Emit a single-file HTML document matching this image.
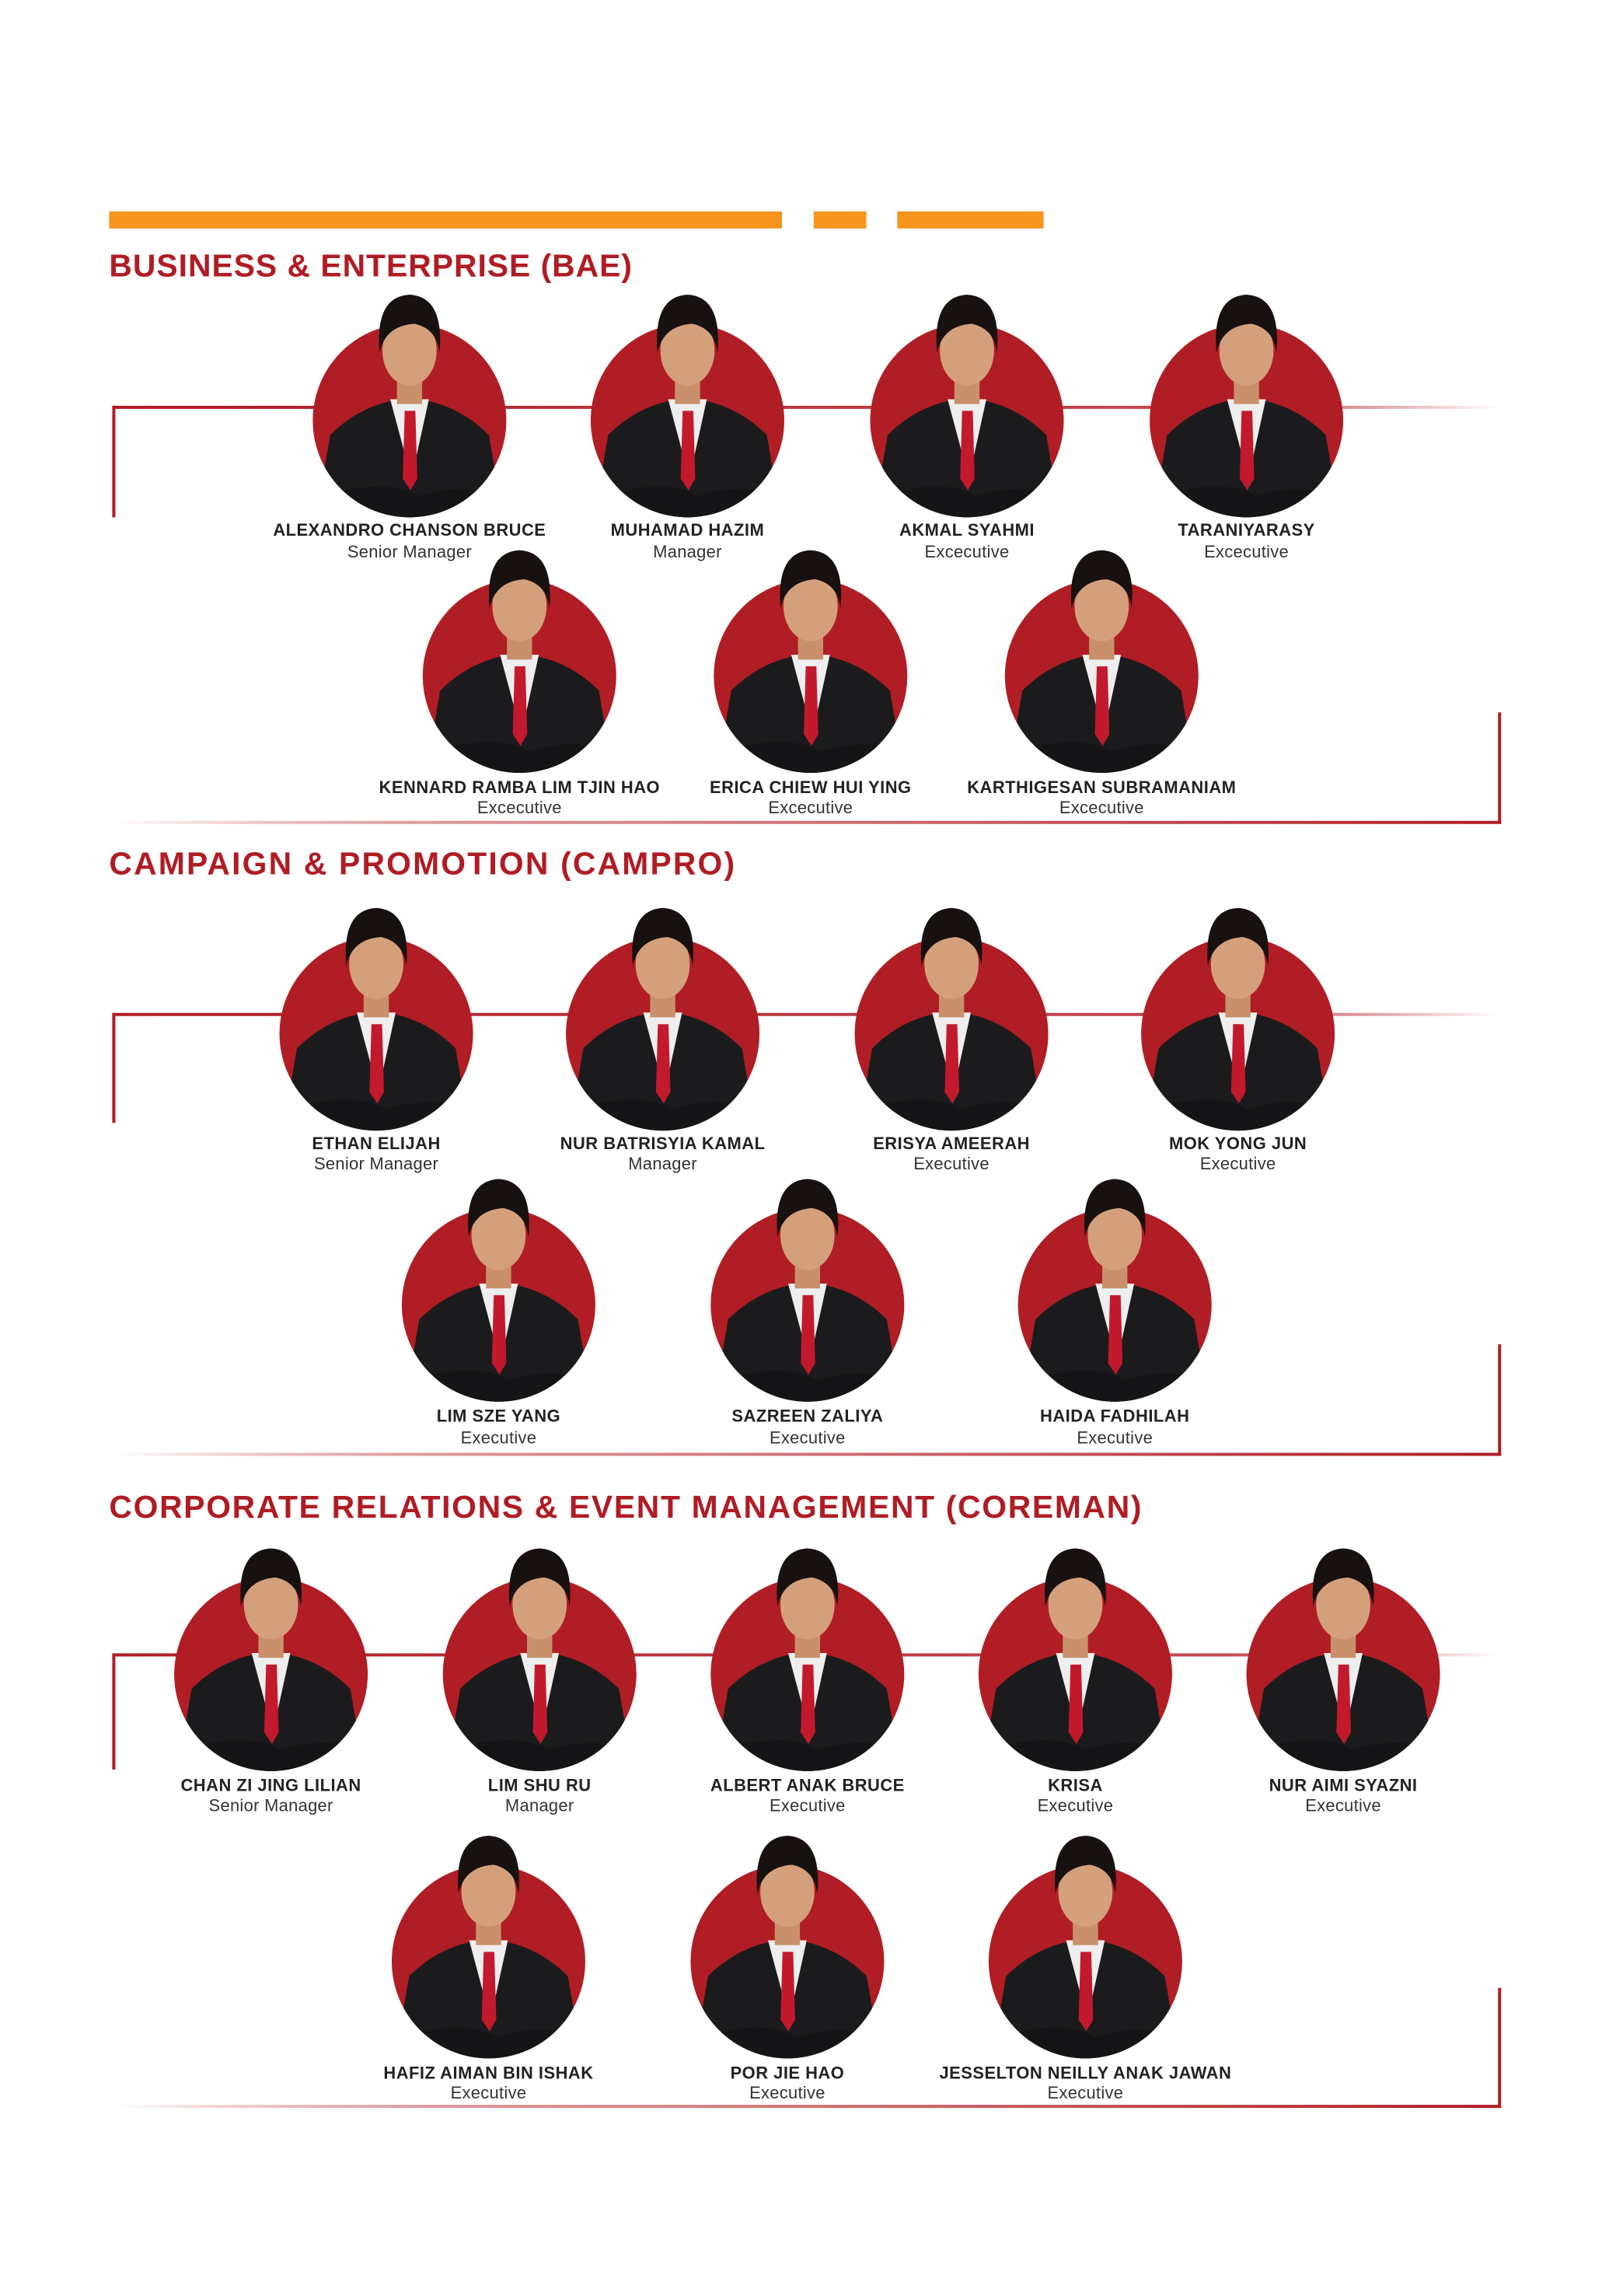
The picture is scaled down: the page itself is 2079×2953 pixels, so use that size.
<!DOCTYPE html>
<html><head><meta charset="utf-8">
<style>
html,body{margin:0;padding:0;background:#fff;}
body{width:2079px;height:2953px;position:relative;overflow:hidden;font-family:"Liberation Sans",sans-serif;}
#w{position:absolute;left:0;top:0;width:2079px;height:2953px;transform:scale(0.996);transform-origin:0 0;}
svg{position:absolute;left:0;top:0;}
.t{position:absolute;left:141px;color:#b01c24;font-size:41px;font-weight:bold;letter-spacing:1px;white-space:nowrap;line-height:1;}
.n{position:absolute;width:600px;margin-left:-300px;text-align:center;color:#222;font-size:22px;font-weight:bold;line-height:1;white-space:nowrap;letter-spacing:0.5px;}
.r{position:absolute;width:400px;margin-left:-200px;text-align:center;color:#333;font-size:22px;line-height:1;white-space:nowrap;letter-spacing:0.3px;}
</style></head><body><div id="w">
<svg width="2079" height="2953" viewBox="0 0 2079 2953">
<defs>
<linearGradient id="fr" x1="0" x2="1" y1="0" y2="0"><stop offset="0" stop-color="#b01c24"/><stop offset="0.8" stop-color="#c44850"/><stop offset="1" stop-color="#b01c24" stop-opacity="0"/></linearGradient>
<linearGradient id="fl" x1="0" x2="1" y1="0" y2="0"><stop offset="0" stop-color="#b01c24" stop-opacity="0"/><stop offset="0.35" stop-color="#d88a8e"/><stop offset="1" stop-color="#b01c24"/></linearGradient>
<clipPath id="cc" clipPathUnits="userSpaceOnUse"><circle cx="0" cy="0" r="1"/></clipPath>
<g id="p">
<circle cx="0" cy="0" r="1" fill="#b11d24"/>
<g clip-path="url(#cc)">
<path d="M-1 1.2 L-0.82 0.15 Q-0.55 -0.12 -0.2 -0.2 L0.2 -0.2 Q0.55 -0.12 0.82 0.15 L1 1.2 Z" fill="#1b1b1d"/>
<path d="M-0.2 -0.22 L0.2 -0.22 L0.02 0.6 Z" fill="#eeeeee"/>
<path d="M-0.05 -0.1 L0.06 -0.1 L0.08 0.6 L0.01 0.72 L-0.07 0.6 Z" fill="#c21a2c"/>
<path d="M-0.8 0.75 Q-0.2 0.6 0.1 0.78 Q0.5 0.65 0.85 0.75 L0.9 1.1 L-0.9 1.1 Z" fill="#151517"/>
</g>
<rect x="-0.13" y="-0.45" width="0.26" height="0.28" fill="#c8916c"/>
<ellipse cx="0" cy="-0.72" rx="0.28" ry="0.36" fill="#d4a07c"/>
<path d="M-0.31 -0.7 Q-0.36 -1.28 0 -1.3 Q0.36 -1.28 0.31 -0.7 Q0.28 -0.95 0.05 -1 Q-0.25 -0.98 -0.31 -0.7 Z" fill="#17110f"/>
</g>
</defs>
<rect x="141" y="273" width="869" height="22" fill="#f7941d"/>
<rect x="1051" y="273" width="68" height="22" fill="#f7941d"/>
<rect x="1159" y="273" width="189" height="22" fill="#f7941d"/>

<rect x="145" y="524" width="1790" height="4" fill="url(#fr)"/>
<rect x="145" y="524" width="4" height="144" fill="#b01c24"/>
<rect x="150" y="1060" width="1789" height="4" fill="url(#fl)"/>
<rect x="1935" y="920" width="4" height="144" fill="#b01c24"/>
<rect x="145" y="1308" width="1790" height="4" fill="url(#fr)"/>
<rect x="145" y="1308" width="4" height="142" fill="#b01c24"/>
<rect x="150" y="1876" width="1789" height="4" fill="url(#fl)"/>
<rect x="1935" y="1736" width="4" height="144" fill="#b01c24"/>
<rect x="145" y="2135" width="1790" height="4" fill="url(#fr)"/>
<rect x="145" y="2135" width="4" height="150" fill="#b01c24"/>
<rect x="150" y="2718" width="1789" height="4" fill="url(#fl)"/>
<rect x="1935" y="2567" width="4" height="155" fill="#b01c24"/>

<use href="#p" transform="translate(529,543) scale(125)"/>
<use href="#p" transform="translate(888,543) scale(125)"/>
<use href="#p" transform="translate(1249,543) scale(125)"/>
<use href="#p" transform="translate(1610,543) scale(125)"/>
<use href="#p" transform="translate(671,873) scale(125)"/>
<use href="#p" transform="translate(1047,873) scale(125)"/>
<use href="#p" transform="translate(1423,873) scale(125)"/>
<use href="#p" transform="translate(486,1335) scale(125)"/>
<use href="#p" transform="translate(856,1335) scale(125)"/>
<use href="#p" transform="translate(1229,1335) scale(125)"/>
<use href="#p" transform="translate(1599,1335) scale(125)"/>
<use href="#p" transform="translate(644,1685) scale(125)"/>
<use href="#p" transform="translate(1043,1685) scale(125)"/>
<use href="#p" transform="translate(1440,1685) scale(125)"/>
<use href="#p" transform="translate(350,2162) scale(125)"/>
<use href="#p" transform="translate(697,2162) scale(125)"/>
<use href="#p" transform="translate(1043,2162) scale(125)"/>
<use href="#p" transform="translate(1389,2162) scale(125)"/>
<use href="#p" transform="translate(1735,2162) scale(125)"/>
<use href="#p" transform="translate(631,2533) scale(125)"/>
<use href="#p" transform="translate(1017,2533) scale(125)"/>
<use href="#p" transform="translate(1402,2533) scale(125)"/>
</svg>

<div class="t" style="top:323px">BUSINESS &amp; ENTERPRISE (BAE)</div>
<div class="t" style="top:1095px;letter-spacing:2.2px">CAMPAIGN &amp; PROMOTION (CAMPRO)</div>
<div class="t" style="top:1926px;letter-spacing:1.7px">CORPORATE RELATIONS &amp; EVENT MANAGEMENT (COREMAN)</div>

<div class="n" style="left:529px;top:674px">ALEXANDRO CHANSON BRUCE</div><div class="r" style="left:529px;top:702px">Senior Manager</div>
<div class="n" style="left:888px;top:674px">MUHAMAD HAZIM</div><div class="r" style="left:888px;top:702px">Manager</div>
<div class="n" style="left:1249px;top:674px">AKMAL SYAHMI</div><div class="r" style="left:1249px;top:702px">Excecutive</div>
<div class="n" style="left:1610px;top:674px">TARANIYARASY</div><div class="r" style="left:1610px;top:702px">Excecutive</div>
<div class="n" style="left:671px;top:1006px">KENNARD RAMBA LIM TJIN HAO</div><div class="r" style="left:671px;top:1032px">Excecutive</div>
<div class="n" style="left:1047px;top:1006px">ERICA CHIEW HUI YING</div><div class="r" style="left:1047px;top:1032px">Excecutive</div>
<div class="n" style="left:1423px;top:1006px">KARTHIGESAN SUBRAMANIAM</div><div class="r" style="left:1423px;top:1032px">Excecutive</div>

<div class="n" style="left:486px;top:1466px">ETHAN ELIJAH</div><div class="r" style="left:486px;top:1492px">Senior Manager</div>
<div class="n" style="left:856px;top:1466px">NUR BATRISYIA KAMAL</div><div class="r" style="left:856px;top:1492px">Manager</div>
<div class="n" style="left:1229px;top:1466px">ERISYA AMEERAH</div><div class="r" style="left:1229px;top:1492px">Executive</div>
<div class="n" style="left:1599px;top:1466px">MOK YONG JUN</div><div class="r" style="left:1599px;top:1492px">Executive</div>
<div class="n" style="left:644px;top:1818px">LIM SZE YANG</div><div class="r" style="left:644px;top:1846px">Executive</div>
<div class="n" style="left:1043px;top:1818px">SAZREEN ZALIYA</div><div class="r" style="left:1043px;top:1846px">Executive</div>
<div class="n" style="left:1440px;top:1818px">HAIDA FADHILAH</div><div class="r" style="left:1440px;top:1846px">Executive</div>

<div class="n" style="left:350px;top:2295px">CHAN ZI JING LILIAN</div><div class="r" style="left:350px;top:2321px">Senior Manager</div>
<div class="n" style="left:697px;top:2295px">LIM SHU RU</div><div class="r" style="left:697px;top:2321px">Manager</div>
<div class="n" style="left:1043px;top:2295px">ALBERT ANAK BRUCE</div><div class="r" style="left:1043px;top:2321px">Executive</div>
<div class="n" style="left:1389px;top:2295px">KRISA</div><div class="r" style="left:1389px;top:2321px">Executive</div>
<div class="n" style="left:1735px;top:2295px">NUR AIMI SYAZNI</div><div class="r" style="left:1735px;top:2321px">Executive</div>
<div class="n" style="left:631px;top:2666px">HAFIZ AIMAN BIN ISHAK</div><div class="r" style="left:631px;top:2692px">Executive</div>
<div class="n" style="left:1017px;top:2666px">POR JIE HAO</div><div class="r" style="left:1017px;top:2692px">Executive</div>
<div class="n" style="left:1402px;top:2666px">JESSELTON NEILLY ANAK JAWAN</div><div class="r" style="left:1402px;top:2692px">Executive</div>
</div></body></html>
